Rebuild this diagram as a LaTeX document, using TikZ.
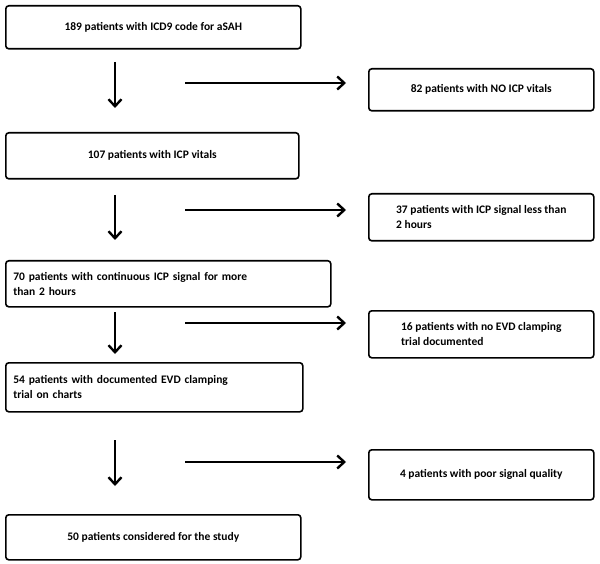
\documentclass[tikz,border=0pt]{standalone}
\usepackage{fontspec}
\setmainfont{Carlito}
\usetikzlibrary{arrows.meta}
\begin{document}
\begin{tikzpicture}[x=1pt,y=-1pt,
 box/.style={draw,line width=1.6pt,rounded corners=3pt,font=\bfseries\fontsize{11.5}{15}\selectfont,inner sep=4pt},
 arr/.style={line width=2.4pt,-{Straight Barb[length=7pt,width=13pt]}}]
\useasboundingbox (0,0) rectangle (600,564);
\node[box,minimum width=295,minimum height=43,anchor=north west,align=center] (b1) at (5,5) {189 patients with ICD9 code for aSAH};
\node[box,minimum width=293,minimum height=46,anchor=north west,align=center] (b2) at (5,132) {107 patients with ICP vitals};
\node[box,minimum width=325,minimum height=46,anchor=north west,text width=310,align=left] (b3) at (5,260) {70 patients with continuous ICP signal for more\\than 2 hours};
\node[box,minimum width=297,minimum height=49,anchor=north west,text width=282,align=left] (b4) at (5,362) {54 patients with documented EVD clamping\\trial on charts};
\node[box,minimum width=295,minimum height=45,anchor=north west,align=center] (b5) at (5,514) {50 patients considered for the study};
\node[box,minimum width=225,minimum height=42,anchor=north west,align=center] (r1) at (368,68) {82 patients with NO ICP vitals};
\node[box,minimum width=225,minimum height=47,anchor=north west,align=left] (r2) at (368,193) {37 patients with ICP signal less than\\2 hours};
\node[box,minimum width=225,minimum height=47,anchor=north west,align=left] (r3) at (368,310) {16 patients with no EVD clamping\\trial documented};
\node[box,minimum width=225,minimum height=50,anchor=north west,align=center] (r4) at (368,449) {4 patients with poor signal quality};
\coordinate (d1a) at (115,62); \coordinate (d1b) at (115,108);
\coordinate (d2a) at (115,195); \coordinate (d2b) at (115,240);
\coordinate (d3a) at (115,312); \coordinate (d3b) at (115,354);
\coordinate (d4a) at (115,440); \coordinate (d4b) at (115,486);
\draw[arr] (d1a) -- (d1b); \draw[arr] (d2a) -- (d2b);
\draw[arr] (d3a) -- (d3b); \draw[arr] (d4a) -- (d4b);
\coordinate (h1) at (185,83); \coordinate (h2) at (185,210);
\coordinate (h3) at (185,323); \coordinate (h4) at (185,462);
\draw[arr] (h1) -- ([xshift=-22pt]h1 -| r1.west);
\draw[arr] (h2) -- ([xshift=-22pt]h2 -| r2.west);
\draw[arr] (h3) -- ([xshift=-22pt]h3 -| r3.west);
\draw[arr] (h4) -- ([xshift=-22pt]h4 -| r4.west);
\end{tikzpicture}
\end{document}
